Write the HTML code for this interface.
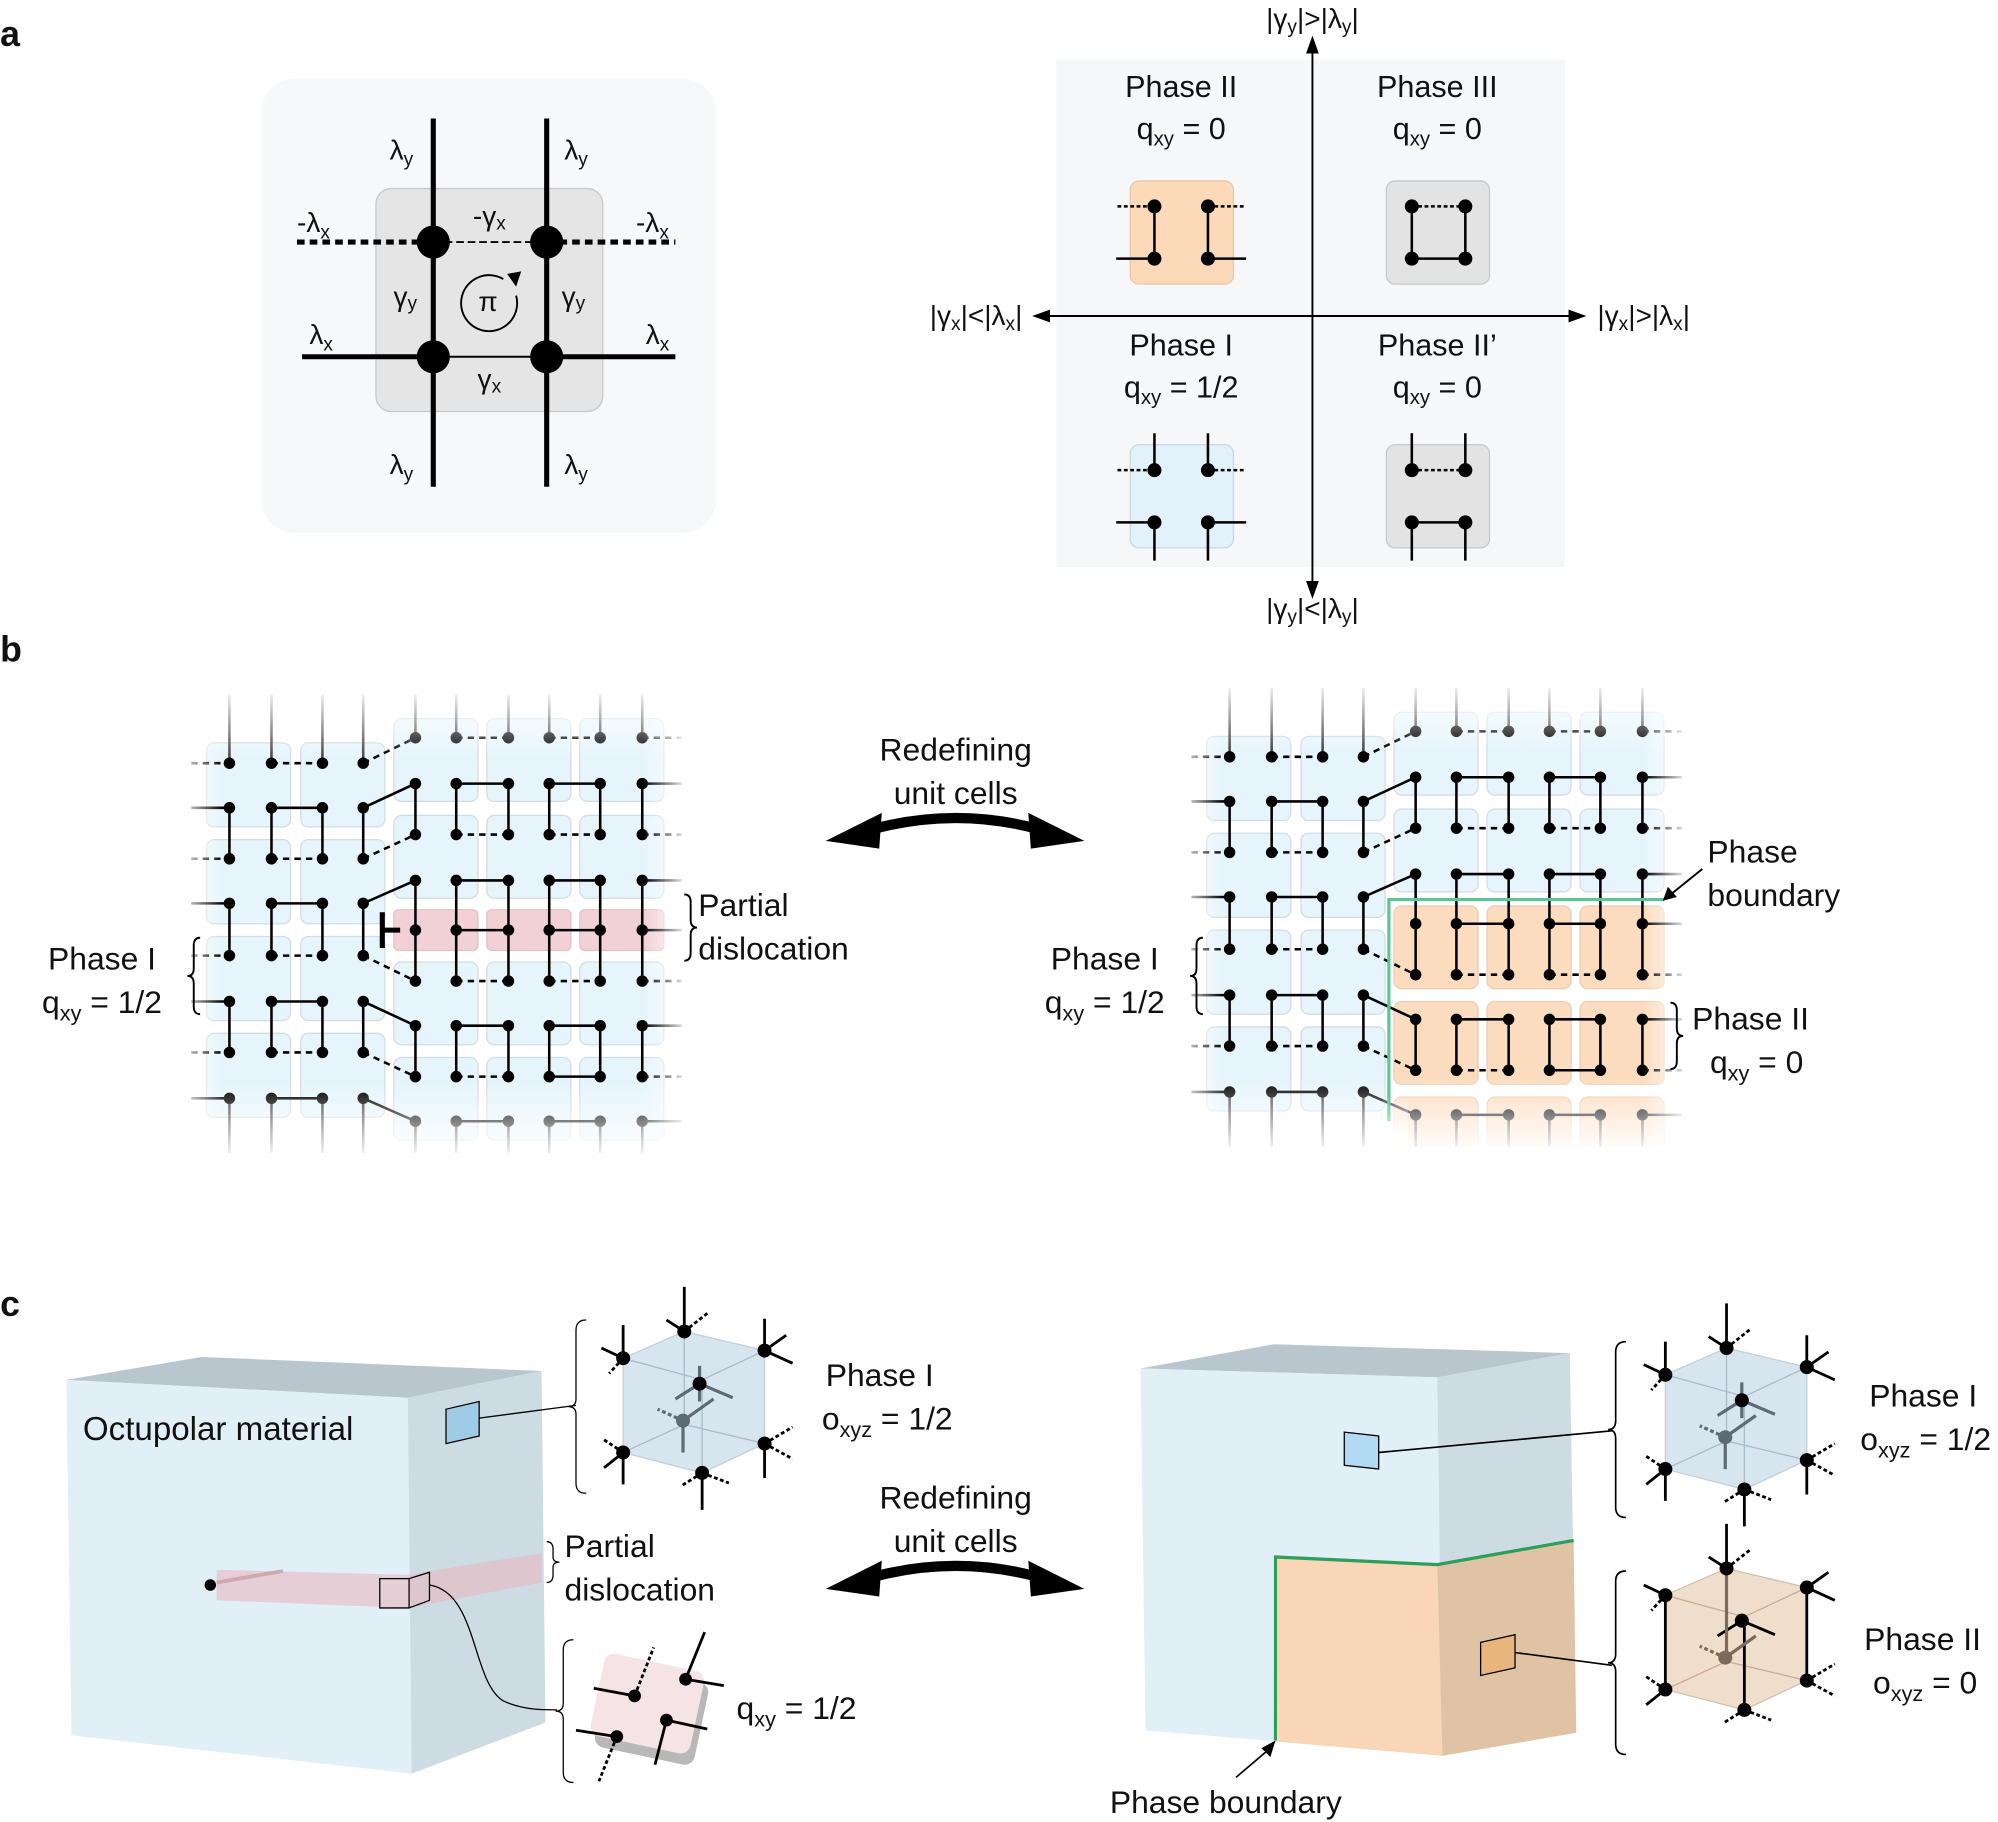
<!DOCTYPE html>
<html><head><meta charset="utf-8"><style>
html,body{margin:0;padding:0;background:#fff;}
svg{display:block;}
text{font-family:"Liberation Sans",sans-serif;fill:#111;}
</style></head><body>
<svg width="1998" height="1822" viewBox="0 0 1568 1430" xmlns="http://www.w3.org/2000/svg">
<defs>
<linearGradient id="ft" x1="0" y1="0" x2="0" y2="1"><stop offset="0" stop-color="#fff" stop-opacity="1"/><stop offset="1" stop-color="#fff" stop-opacity="0"/></linearGradient>
<linearGradient id="fb" x1="0" y1="1" x2="0" y2="0"><stop offset="0" stop-color="#fff" stop-opacity="1"/><stop offset="1" stop-color="#fff" stop-opacity="0"/></linearGradient>
<linearGradient id="fl" x1="0" y1="0" x2="1" y2="0"><stop offset="0" stop-color="#fff" stop-opacity="1"/><stop offset="1" stop-color="#fff" stop-opacity="0"/></linearGradient>
<linearGradient id="fr" x1="1" y1="0" x2="0" y2="0"><stop offset="0" stop-color="#fff" stop-opacity="1"/><stop offset="1" stop-color="#fff" stop-opacity="0"/></linearGradient>
<g id="colL"><circle cx="0" cy="599" r="4.5"/><circle cx="0" cy="634" r="4.5"/><circle cx="0" cy="674" r="4.5"/><circle cx="0" cy="709" r="4.5"/><circle cx="0" cy="750" r="4.5"/><circle cx="0" cy="786" r="4.5"/><circle cx="0" cy="826" r="4.5"/><circle cx="0" cy="862" r="4.5"/></g>
<g id="colR"><circle cx="0" cy="579" r="4.5"/><circle cx="0" cy="615" r="4.5"/><circle cx="0" cy="655" r="4.5"/><circle cx="0" cy="691" r="4.5"/><circle cx="0" cy="730" r="4.5"/><circle cx="0" cy="770" r="4.5"/><circle cx="0" cy="805" r="4.5"/><circle cx="0" cy="845" r="4.5"/><circle cx="0" cy="880" r="4.5"/></g>
<g id="bonds" stroke="#000" stroke-width="2" fill="none">
<g>
<path d="M180,634V674M213,634V674M253,634V674M285,634V674M180,709V750M213,709V750M253,709V750M285,709V750M180,786V826M213,786V826M253,786V826M285,786V826"/>
<path d="M180,545V599M213,545V599M253,545V599M285,545V599M180,862V905M213,862V905M253,862V905M285,862V905" stroke="#444"/>
<path d="M213,634H253M213,709H253M213,786H253M213,862H253M150,634H180M150,709H180M150,786H180M150,862H180"/>
<path d="M213,599H253M213,674H253M213,750H253M213,826H253M150,599H180M150,674H180M150,750H180M150,826H180" stroke-dasharray="5,4"/>
<path d="M326,615V655M358,615V655M399,615V655M431,615V655M471,615V655M504,615V655M326,691V770M358,691V770M399,691V770M431,691V770M471,691V770M504,691V770M326,805V845M358,805V845M399,805V845M431,805V845M471,805V845M504,805V845"/>
<path d="M326,545V579M358,545V579M399,545V579M431,545V579M471,545V579M504,545V579M326,880V905M358,880V905M399,880V905M431,880V905M471,880V905M504,880V905" stroke="#444"/>
<path d="M358,615H399M431,615H471M358,691H399M431,691H471M358,730H399M431,730H471M358,805H399M431,805H471M431,845H471M358,880H399M431,880H471M504,615H535M504,691H535M504,730H535M504,805H535M504,880H535"/>
<path d="M358,579H399M431,579H471M358,655H399M431,655H471M358,770H399M431,770H471M358,845H399M504,579H535M504,655H535M504,770H535M504,845H535" stroke-dasharray="5,4"/>
<path d="M285,634L326,615M285,709L326,691M285,786L326,805M285,862L326,880"/>
<path d="M285,599L326,579M285,674L326,655M285,750L326,770M285,826L326,845" stroke-dasharray="5,4"/>
</g>
<g fill="#000" stroke="none">
<use href="#colL" x="180"/><use href="#colL" x="213"/><use href="#colL" x="253"/><use href="#colL" x="285"/>
<use href="#colR" x="326"/><use href="#colR" x="358"/><use href="#colR" x="399"/><use href="#colR" x="431"/><use href="#colR" x="471"/><use href="#colR" x="504"/>
</g>
</g>
<g id="cellsL" fill="#e6f5fc" stroke="#d3dce2" stroke-width="1">
<rect x="162" y="583" width="66" height="66" rx="6"/><rect x="236" y="583" width="66" height="66" rx="6"/>
<rect x="162" y="659" width="66" height="66" rx="6"/><rect x="236" y="659" width="66" height="66" rx="6"/>
<rect x="162" y="735" width="66" height="66" rx="6"/><rect x="236" y="735" width="66" height="66" rx="6"/>
<rect x="162" y="811" width="66" height="66" rx="6"/><rect x="236" y="811" width="66" height="66" rx="6"/>
<rect x="309" y="564" width="66" height="65" rx="6"/><rect x="382" y="564" width="66" height="65" rx="6"/><rect x="455" y="564" width="66" height="65" rx="6"/>
<rect x="309" y="640" width="66" height="65" rx="6"/><rect x="382" y="640" width="66" height="65" rx="6"/><rect x="455" y="640" width="66" height="65" rx="6"/>
</g>
<g id="fades">
<rect x="140" y="540" width="400" height="55" fill="url(#ft)"/>
<rect x="140" y="850" width="400" height="60" fill="url(#fb)"/>
<rect x="140" y="540" width="35" height="370" fill="url(#fl)"/>
<rect x="505" y="540" width="35" height="370" fill="url(#fr)"/>
</g>
</defs>

<text x="0" y="36" font-size="28" font-weight="bold">a</text>
<text x="0" y="519" font-size="28" font-weight="bold">b</text>
<text x="0" y="1033" font-size="28" font-weight="bold">c</text>

<!-- ===== panel a left ===== -->
<rect x="205" y="62" width="357" height="356" rx="26" fill="#f6f8fa"/>
<rect x="295" y="148" width="178" height="175" rx="12" fill="#e5e5e5" stroke="#c8c8c8"/>
<g stroke="#000" fill="none">
<path d="M340,93V382M429,93V382" stroke-width="4"/>
<path d="M237,280H340M429,280H530" stroke-width="4"/>
<path d="M233,190H340M429,190H530" stroke-width="4" stroke-dasharray="6,4"/>
<path d="M340,190H429" stroke-width="1.5" stroke-dasharray="6,3"/>
<path d="M340,190V280M429,190V280M340,280H429" stroke-width="1.5"/>
<path d="M395,219 A22,22 0 1 0 405,232" stroke-width="1.5"/>
</g>
<path d="M398,215 L409,213 L405,225 Z" fill="#000"/>
<g fill="#000"><circle cx="340" cy="190" r="13"/><circle cx="429" cy="190" r="13"/><circle cx="340" cy="280" r="13"/><circle cx="429" cy="280" r="13"/></g>
<g font-size="22" text-anchor="middle">
<text x="315" y="125">λ<tspan font-size="15" dy="5">y</tspan></text>
<text x="452" y="125">λ<tspan font-size="15" dy="5">y</tspan></text>
<text x="315" y="372">λ<tspan font-size="15" dy="5">y</tspan></text>
<text x="452" y="372">λ<tspan font-size="15" dy="5">y</tspan></text>
<text x="246" y="182">-λ<tspan font-size="15" dy="5">x</tspan></text>
<text x="512" y="182">-λ<tspan font-size="15" dy="5">x</tspan></text>
<text x="252" y="270">λ<tspan font-size="15" dy="5">x</tspan></text>
<text x="516" y="270">λ<tspan font-size="15" dy="5">x</tspan></text>
<text x="384" y="177">-γ<tspan font-size="15" dy="3">x</tspan></text>
<text x="384" y="305">γ<tspan font-size="15" dy="3">x</tspan></text>
<text x="318" y="240">γ<tspan font-size="15" dy="3">y</tspan></text>
<text x="450" y="240">γ<tspan font-size="15" dy="3">y</tspan></text>
<text x="383" y="244">π</text>
</g>

<!-- ===== panel a right ===== -->
<rect x="829" y="47" width="399" height="398" fill="#f5f7f9"/>
<g stroke="#000" stroke-width="1.5"><path d="M1030,36V462M818,248H1237"/></g>
<g fill="#000">
<path d="M1030,28 L1025,42 L1035,42Z"/><path d="M1030,470 L1025,456 L1035,456Z"/>
<path d="M810,248 L824,243 L824,253Z"/><path d="M1245,248 L1231,243 L1231,253Z"/>
</g>
<g font-size="22" text-anchor="middle">
<text x="1030" y="22">|γ<tspan font-size="15" dy="4">y</tspan><tspan dy="-4">|&gt;|λ</tspan><tspan font-size="15" dy="4">y</tspan><tspan dy="-4">|</tspan></text>
<text x="1030" y="485">|γ<tspan font-size="15" dy="4">y</tspan><tspan dy="-4">|&lt;|λ</tspan><tspan font-size="15" dy="4">y</tspan><tspan dy="-4">|</tspan></text>
<text x="766" y="255">|γ<tspan font-size="15" dy="4">x</tspan><tspan dy="-4">|&lt;|λ</tspan><tspan font-size="15" dy="4">x</tspan><tspan dy="-4">|</tspan></text>
<text x="1290" y="255">|γ<tspan font-size="15" dy="4">x</tspan><tspan dy="-4">|&gt;|λ</tspan><tspan font-size="15" dy="4">x</tspan><tspan dy="-4">|</tspan></text>
<text x="927" y="76" font-size="24">Phase II</text>
<text x="927" y="109" font-size="24">q<tspan font-size="16" dy="5">xy</tspan><tspan dy="-5"> = 0</tspan></text>
<text x="1128" y="76" font-size="24">Phase III</text>
<text x="1128" y="109" font-size="24">q<tspan font-size="16" dy="5">xy</tspan><tspan dy="-5"> = 0</tspan></text>
<text x="927" y="279" font-size="24">Phase I</text>
<text x="927" y="312" font-size="24">q<tspan font-size="16" dy="5">xy</tspan><tspan dy="-5"> = 1/2</tspan></text>
<text x="1128" y="279" font-size="24">Phase II’</text>
<text x="1128" y="312" font-size="24">q<tspan font-size="16" dy="5">xy</tspan><tspan dy="-5"> = 0</tspan></text>
</g>
<rect x="887" y="142" width="81" height="81" rx="7" fill="#fcd9b8" stroke="#e8c6a8"/>
<rect x="1088" y="142" width="81" height="81" rx="7" fill="#e3e3e3" stroke="#c8c8c8"/>
<rect x="887" y="349" width="81" height="81" rx="7" fill="#e2f1fa" stroke="#c8d8e2"/>
<rect x="1088" y="349" width="81" height="81" rx="7" fill="#e3e3e3" stroke="#c8c8c8"/>
<g stroke="#000" stroke-width="2" fill="none">
<path d="M906,162V203M948,162V203M876,203H906M948,203H978"/>
<path d="M877,162H906M948,162H978" stroke-dasharray="3,2"/>
<path d="M1108,162V203M1150,162V203M1108,203H1150"/>
<path d="M1108,162H1150" stroke-dasharray="3,2"/>
<path d="M906,340V369M948,340V369M906,410V440M948,410V440M876,410H906M948,410H978"/>
<path d="M877,369H906M948,369H978" stroke-dasharray="3,2"/>
<path d="M1108,340V369M1150,340V369M1108,410V440M1150,410V440M1108,410H1150"/>
<path d="M1108,369H1150" stroke-dasharray="3,2"/>
</g>
<g fill="#000">
<circle cx="906" cy="162" r="5.5"/><circle cx="948" cy="162" r="5.5"/><circle cx="906" cy="203" r="5.5"/><circle cx="948" cy="203" r="5.5"/>
<circle cx="1108" cy="162" r="5.5"/><circle cx="1150" cy="162" r="5.5"/><circle cx="1108" cy="203" r="5.5"/><circle cx="1150" cy="203" r="5.5"/>
<circle cx="906" cy="369" r="5.5"/><circle cx="948" cy="369" r="5.5"/><circle cx="906" cy="410" r="5.5"/><circle cx="948" cy="410" r="5.5"/>
<circle cx="1108" cy="369" r="5.5"/><circle cx="1150" cy="369" r="5.5"/><circle cx="1108" cy="410" r="5.5"/><circle cx="1150" cy="410" r="5.5"/>
</g>

<!-- ===== panel b left ===== -->
<use href="#cellsL"/>
<g fill="#e6f5fc" stroke="#d3dce2">
<rect x="309" y="755" width="66" height="65" rx="6"/><rect x="382" y="755" width="66" height="65" rx="6"/><rect x="455" y="755" width="66" height="65" rx="6"/>
<rect x="309" y="830" width="66" height="65" rx="6"/><rect x="382" y="830" width="66" height="65" rx="6"/><rect x="455" y="830" width="66" height="65" rx="6"/>
</g>
<g fill="#f1d1d6" stroke="#e3c0c6">
<rect x="309" y="714" width="66" height="32" rx="4"/><rect x="382" y="714" width="66" height="32" rx="4"/><rect x="455" y="714" width="66" height="32" rx="4"/>
</g>
<use href="#bonds"/>
<use href="#fades"/>
<path d="M300,716V744M300,730H314" stroke="#000" stroke-width="4" fill="none"/>
<g font-size="25" text-anchor="start">
<text x="548" y="719">Partial</text><text x="548" y="753">dislocation</text>
<text x="80" y="761" text-anchor="middle">Phase I</text>
<text x="80" y="795" text-anchor="middle">q<tspan font-size="17" dy="6">xy</tspan><tspan dy="-6"> = 1/2</tspan></text>
</g>
<g stroke="#000" stroke-width="1.5" fill="none">
<path d="M537,702 q5,0 5,6 v14 q0,6 5,6 q-5,0 -5,6 v14 q0,6 -5,6"/>
<path d="M157,736 q-5,0 -5,6 v18 q0,6 -5,6 q5,0 5,6 v18 q0,6 5,6"/>
</g>

<g font-size="25" text-anchor="middle">
<text x="750" y="597">Redefining</text><text x="750" y="631">unit cells</text>
<text x="750" y="1184">Redefining</text><text x="750" y="1218">unit cells</text>
</g>
<g id="dblarrow">
<path d="M684,651 Q750,633 816,651" stroke="#000" stroke-width="8" fill="none"/>
<path d="M648,660 L692,638 L690,666 Z" fill="#000"/>
<path d="M851,660 L807,638 L809,666 Z" fill="#000"/>
</g>
<use href="#dblarrow" y="587"/>

<!-- ===== panel b right ===== -->
<g transform="translate(785,-5)">
<use href="#cellsL"/>
<g fill="#fcdcbf" stroke="#e8cdb5">
<rect x="309" y="716" width="66" height="65" rx="6"/><rect x="382" y="716" width="66" height="65" rx="6"/><rect x="455" y="716" width="66" height="65" rx="6"/>
<rect x="309" y="791" width="66" height="65" rx="6"/><rect x="382" y="791" width="66" height="65" rx="6"/><rect x="455" y="791" width="66" height="65" rx="6"/>
<rect x="309" y="866" width="66" height="65" rx="6"/><rect x="382" y="866" width="66" height="65" rx="6"/><rect x="455" y="866" width="66" height="65" rx="6"/>
</g>
<use href="#bonds"/>
<use href="#fades"/>
<rect x="300" y="905" width="240" height="35" fill="#fff"/>
</g>
<path d="M1090,880V706H1306" stroke="#5cc596" stroke-width="2.5" fill="none"/>
<rect x="1085" y="860" width="20" height="40" fill="url(#fb)"/>
<path d="M1336,682 L1310,703" stroke="#000" stroke-width="1.5"/>
<path d="M1305,707 L1309,696 L1316,704 Z" fill="#000"/>
<g font-size="25">
<text x="1340" y="677">Phase</text><text x="1340" y="711">boundary</text>
<text x="867" y="761" text-anchor="middle">Phase I</text>
<text x="867" y="795" text-anchor="middle">q<tspan font-size="17" dy="6">xy</tspan><tspan dy="-6"> = 1/2</tspan></text>
<text x="1328" y="808">Phase II</text>
<text x="1342" y="842">q<tspan font-size="17" dy="6">xy</tspan><tspan dy="-6"> = 0</tspan></text>
</g>
<g stroke="#000" stroke-width="1.5" fill="none">
<path d="M944,736 q-5,0 -5,6 v18 q0,6 -5,6 q5,0 5,6 v18 q0,6 5,6"/>
<path d="M1311,787 q5,0 5,6 v14 q0,6 5,6 q-5,0 -5,6 v14 q0,6 -5,6"/>
</g>

<!-- ===== panel c left ===== -->
<polygon points="52,1083 158,1065 425,1076 320,1097" fill="#bac6cd"/>
<polygon points="52,1083 320,1097 323,1392 56,1362" fill="#e1eff7"/>
<polygon points="320,1097 425,1076 428,1352 323,1392" fill="#cddbe3"/>
<polygon points="170,1232 320,1236 425,1219 425,1242 320,1262 170,1256" fill="#e8b8be" opacity="0.6"/>
<path d="M170,1242 L222,1233" stroke="#c89aa0" stroke-width="3" opacity="0.7"/>
<circle cx="165" cy="1244" r="4.5" fill="#000"/>
<g stroke="#000" stroke-width="1" fill="none">
<path d="M298,1239 V1262 H321 V1239 Z M321,1262 L337,1256 V1234 L321,1239"/>
<path d="M337,1244 C375,1250 370,1320 395,1335 C410,1342 425,1342 437,1342"/>
<path d="M376,1113 L452,1103"/>
<path d="M460,1036 q-8,0 -8,8 v54 q0,6 -6,6 q6,0 6,6 v54 q0,8 8,8"/>
<path d="M450,1287 q-8,0 -8,8 v42 q0,6 -6,6 q6,0 6,6 v42 q0,8 8,8"/>
<path d="M429,1210 q5,0 5,6 v6 q0,4 5,4 q-5,0 -5,4 v6 q0,6 -5,6"/>
</g>
<polygon points="350,1106 376,1100 376,1127 350,1133" fill="#9fcbe6" stroke="#000" stroke-width="1"/>
<text x="65" y="1130" font-size="26">Octupolar material</text>
<g font-size="25">
<text x="443" y="1222">Partial</text><text x="443" y="1256">dislocation</text>
<text x="648" y="1088">Phase I</text>
<text x="645" y="1122">o<tspan font-size="17" dy="6">xyz</tspan><tspan dy="-6"> = 1/2</tspan></text>
<text x="578" y="1349">q<tspan font-size="17" dy="6">xy</tspan><tspan dy="-6"> = 1/2</tspan></text>
</g>
<g id="hexB">
<polygon points="537,1045 600,1060 600,1133 551,1156 489,1140 489,1066" fill="#c6dbe7" opacity="0.7" stroke="#a8bcc8"/>
<path d="M489,1066 L551,1083 L600,1060 M551,1083 V1156 M537,1045 V1118 L489,1140 M537,1118 L600,1133" stroke="#a8bcc8" fill="none"/>
<g stroke="#000" stroke-width="2.2" fill="none">
<path d="M537,1010 V1045 M523,1036 L537,1045 M489,1040 V1066 M472,1058 L489,1066 M600,1035 V1060 M600,1060 L617,1048 M600,1060 L622,1070 M489,1140 V1165 M489,1140 L474,1152 M600,1133 V1160 M551,1156 V1185"/>
<path d="M537,1045 L556,1030 M489,1066 L478,1078 M489,1140 L474,1130 M600,1133 L622,1120 M600,1133 L622,1145 M551,1156 L535,1166 M551,1156 L572,1164" stroke-dasharray="3,2"/>
</g>
<g stroke="#5f6b72" stroke-width="2.5" fill="none">
<path d="M549,1072 V1100 M549,1086 L530,1098 M549,1086 L575,1097 M536,1115 V1140 M536,1115 L560,1098"/>
<path d="M536,1115 L516,1106" stroke-dasharray="3,2"/>
</g>
<circle cx="537" cy="1045" r="5.5"/><circle cx="489" cy="1066" r="5.5"/><circle cx="600" cy="1060" r="5.5"/>
<circle cx="489" cy="1140" r="5.5"/><circle cx="600" cy="1133" r="5.5"/><circle cx="551" cy="1156" r="5.5"/>
<circle cx="549" cy="1086" r="5.5"/><circle cx="536" cy="1115" r="5.5" fill="#5f6b72"/>
</g>
<!-- pink tile -->
<g transform="rotate(12 507 1342)">
<rect x="472" y="1312" width="80" height="66" rx="8" fill="#b8b8b8"/>
<rect x="467" y="1304" width="80" height="66" rx="8" fill="#f5e3e5"/>
</g>
<g stroke="#000" stroke-width="2.2" fill="none">
<path d="M466,1325 L498,1331 M538,1318 L553,1281 M538,1318 L568,1323 M452,1358 L484,1363 M523,1350 L555,1357 M523,1350 L514,1385"/>
<path d="M498,1331 L513,1293 M484,1363 L470,1398" stroke-dasharray="3,2"/>
</g>
<g fill="#000"><circle cx="498" cy="1331" r="5"/><circle cx="538" cy="1318" r="5"/><circle cx="484" cy="1363" r="5"/><circle cx="523" cy="1350" r="5"/></g>

<!-- ===== panel c right ===== -->
<polygon points="895,1074 1000,1055 1232,1062 1128,1081" fill="#bac6cd"/>
<polygon points="895,1074 1128,1081 1132,1378 899,1358" fill="#e1eff7"/>
<polygon points="1128,1081 1232,1062 1237,1360 1132,1378" fill="#cddbe3"/>
<polygon points="1001,1222 1128,1228 1132,1378 1003,1367" fill="#f8d6b7"/>
<polygon points="1128,1228 1235,1209 1237,1360 1132,1378" fill="#e0c2a5"/>
<path d="M1001,1366 V1222 L1128,1228 L1235,1209" stroke="#2e9e5b" stroke-width="2.5" fill="none"/>
<polygon points="1055,1124 1082,1127 1082,1153 1055,1150" fill="#b3daf4" stroke="#000"/>
<polygon points="1162,1289 1189,1283 1189,1309 1162,1315" fill="#e8b57e" stroke="#000"/>
<g stroke="#000" stroke-width="1.3" fill="none">
<path d="M1082,1140 L1265,1123"/>
<path d="M1189,1297 L1265,1307"/>
<path d="M1276,1053 q-8,0 -8,8 v54 q0,7 -6,7 q6,0 6,7 v54 q0,8 8,8"/>
<path d="M1276,1233 q-8,0 -8,8 v57 q0,7 -6,7 q6,0 6,7 v57 q0,8 8,8"/>
<path d="M970,1395 L997,1372"/>
</g>
<path d="M1001,1366 L990,1372 L997,1379 Z" fill="#000"/>
<use href="#hexB" transform="translate(818,13)"/>
<g transform="translate(818,186)">
<polygon points="537,1045 600,1060 600,1133 551,1156 489,1140 489,1066" fill="#ecd3bd" opacity="0.75" stroke="#c9ab94"/>
<path d="M489,1066 L551,1083 L600,1060 M551,1083 V1156 M537,1045 V1118 L489,1140 M537,1118 L600,1133" stroke="#c9ab94" fill="none"/>
<g stroke="#000" stroke-width="2.2" fill="none">
<path d="M537,1010 V1045 M523,1036 L537,1045 M472,1058 L489,1066 M489,1066 V1140 M600,1060 V1133 M600,1060 L617,1048 M600,1060 L622,1070 M489,1140 L474,1152 M551,1086 V1156"/>
<path d="M537,1045 L556,1030 M489,1066 L478,1078 M489,1140 L474,1130 M600,1133 L622,1120 M600,1133 L622,1145 M551,1156 L535,1166 M551,1156 L572,1164" stroke-dasharray="3,2"/>
<path d="M549,1086 L530,1098 M549,1086 L575,1097"/>
</g>
<g stroke="#7a6a5c" stroke-width="2.5" fill="none">
<path d="M537,1045 V1115 M536,1115 L560,1098"/>
<path d="M536,1115 L516,1106" stroke-dasharray="3,2"/>
</g>
<circle cx="537" cy="1045" r="5.5"/><circle cx="489" cy="1066" r="5.5"/><circle cx="600" cy="1060" r="5.5"/>
<circle cx="489" cy="1140" r="5.5"/><circle cx="600" cy="1133" r="5.5"/><circle cx="551" cy="1156" r="5.5"/>
<circle cx="549" cy="1086" r="5.5"/><circle cx="536" cy="1115" r="5.5" fill="#7a6a5c"/>
</g>
<g font-size="25">
<text x="1467" y="1104">Phase I</text>
<text x="1460" y="1138">o<tspan font-size="17" dy="6">xyz</tspan><tspan dy="-6"> = 1/2</tspan></text>
<text x="1463" y="1295">Phase II</text>
<text x="1470" y="1329">o<tspan font-size="17" dy="6">xyz</tspan><tspan dy="-6"> = 0</tspan></text>
<text x="871" y="1423">Phase boundary</text>
</g>
</svg>
</body></html>
